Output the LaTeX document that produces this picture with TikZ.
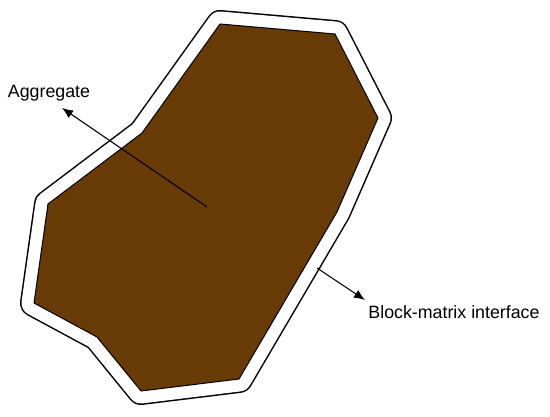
\documentclass[tikz,border=0pt]{standalone}
\usepackage{fontspec}
\setmainfont{Liberation Sans}
\usepackage{xcolor}
\usetikzlibrary{arrows.meta,positioning}
\definecolor{grainbrown}{RGB}{104,58,6}

\tikzset{
  pointer/.style={-{Latex[length=11pt,width=9pt]}, line width=1.1pt},
  tag/.style={font=\fontsize{17.8}{20}\selectfont, inner sep=1pt},
}

\begin{document}
\begin{tikzpicture}[x=1pt, y=-1pt]
  \useasboundingbox (0,0) rectangle (550,417);

  % outer interface line (offset of the grain)
  \def\grain{(220,24) -- (335,34) -- (378,118) -- (337,212) -- (239,379) -- (141,391) -- (97,337) -- (34,303) -- (48,204) -- (142,133) -- cycle}
  \draw[line width=28pt, line join=round] \grain;
  \draw[line width=25pt, white, line join=round] \grain;

  % aggregate
  \draw[fill=grainbrown, line width=1pt, line join=round] \grain;

  % labels
  \node[tag] (agglabel) at (49,93) {Aggregate};
  \node[tag] (itzlabel) at (454,312) {Block-matrix interface};

  \coordinate (aggin) at (207,207);
  \coordinate (aggtip) at (62,108);
  \coordinate (itzin) at (317,268);
  \coordinate (itztip) at (365,300);

  \draw[pointer] (aggin) -- (aggtip);
  \draw[pointer] (itzin) -- (itztip);
\end{tikzpicture}
\end{document}
